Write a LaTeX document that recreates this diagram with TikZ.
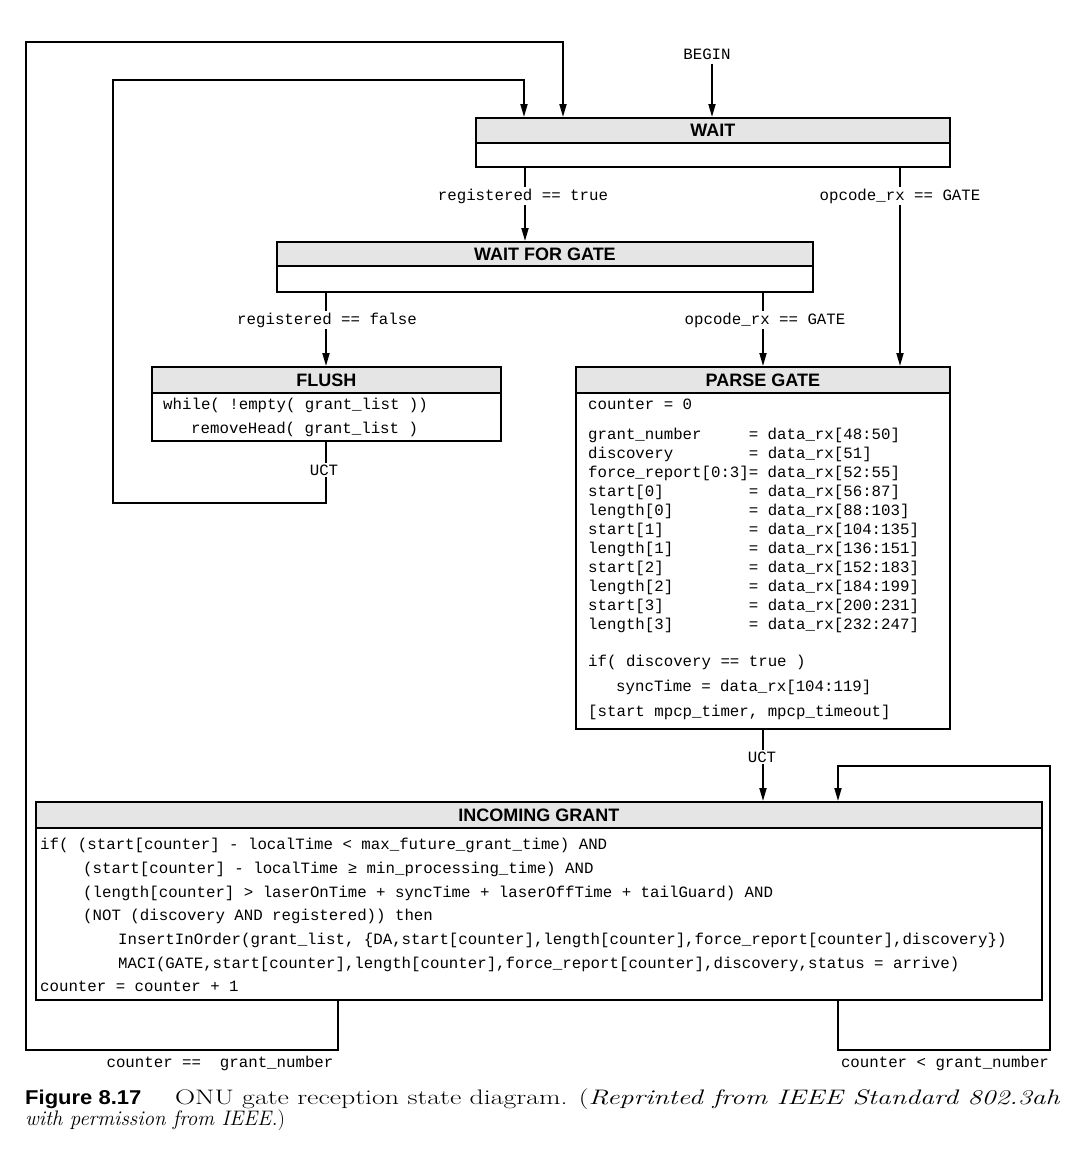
\documentclass[tikz,border=0pt]{standalone}
\usepackage{fontspec}
\setsansfont{Liberation Sans}
\setmonofont{Liberation Mono}
\usetikzlibrary{arrows.meta}
\definecolor{hdrgray}{RGB}{229,229,229}
\begin{document}
\begin{tikzpicture}[x=1pt,y=-1pt,
  hdr/.style={draw, line width=1.8pt, fill=hdrgray, anchor=north west, inner sep=0pt,
    font=\sffamily\bfseries\fontsize{18}{20}\selectfont},
  bodybox/.style={draw, line width=1.8pt, anchor=north west, inner sep=0pt},
  code/.style={font=\ttfamily\fontsize{15.75}{19}\selectfont, anchor=base west, inner sep=0pt},
  lbl/.style={font=\ttfamily\fontsize{15.75}{19}\selectfont, fill=white, inner sep=2pt},
  arr/.style={line width=1.8pt, -{Triangle[length=13pt,width=7pt]}},
  captxt/.style={anchor=base west, inner sep=0pt, font=\fontsize{21}{24}\selectfont},
]
\useasboundingbox (0,0) rectangle (1080,1171);

% ---------- states ----------
\node[hdr, minimum width=474pt, minimum height=25pt] (waitH) at (475,117) {WAIT};
\node[bodybox, minimum width=474pt, minimum height=24pt] (waitB) at (475,142) {};

\node[hdr, minimum width=536pt, minimum height=24pt] (wfgH) at (276,241) {WAIT FOR GATE};
\node[bodybox, minimum width=536pt, minimum height=26pt] (wfgB) at (276,265) {};

\node[hdr, minimum width=349pt, minimum height=26pt] (flushH) at (151,366) {FLUSH};
\node[bodybox, minimum width=349pt, minimum height=48pt] (flushB) at (151,392) {};

\node[hdr, minimum width=374pt, minimum height=26pt] (parseH) at (575,366) {PARSE GATE};
\node[bodybox, minimum width=374pt, minimum height=336pt] (parseB) at (575,392) {};

\node[hdr, minimum width=1006pt, minimum height=26pt] (incH) at (35,801) {INCOMING GRANT};
\node[bodybox, minimum width=1006pt, minimum height=172pt] (incB) at (35,827) {};

% ---------- state texts ----------
\node[code] (fl1) at (163,409) {while( !empty( grant\_list ))};
\node[code] (fl2) at (191,433) {removeHead( grant\_list )};

\node[code] (pg1) at (588,409) {counter = 0};
\node[code] (pg2) at (588,439) {\makebox[10.2em][l]{grant\_number}= data\_rx[48:50]};
\node[code] (pg3) at (588,458) {\makebox[10.2em][l]{discovery}= data\_rx[51]};
\node[code] (pg4) at (588,477) {\makebox[10.2em][l]{force\_report[0:3]}= data\_rx[52:55]};
\node[code] (pg5) at (588,496) {\makebox[10.2em][l]{start[0]}= data\_rx[56:87]};
\node[code] (pg6) at (588,515) {\makebox[10.2em][l]{length[0]}= data\_rx[88:103]};
\node[code] (pg7) at (588,534) {\makebox[10.2em][l]{start[1]}= data\_rx[104:135]};
\node[code] (pg8) at (588,553) {\makebox[10.2em][l]{length[1]}= data\_rx[136:151]};
\node[code] (pg9) at (588,572) {\makebox[10.2em][l]{start[2]}= data\_rx[152:183]};
\node[code] (pg10) at (588,591) {\makebox[10.2em][l]{length[2]}= data\_rx[184:199]};
\node[code] (pg11) at (588,610) {\makebox[10.2em][l]{start[3]}= data\_rx[200:231]};
\node[code] (pg12) at (588,629) {\makebox[10.2em][l]{length[3]}= data\_rx[232:247]};
\node[code] (pg13) at (588,666) {if( discovery == true )};
\node[code] (pg14) at (616,691) {syncTime = data\_rx[104:119]};
\node[code] (pg15) at (588,716) {[start mpcp\_timer, mpcp\_timeout]};

\node[code] (ig1) at (40,849) {if( (start[counter] - localTime < max\_future\_grant\_time) AND};
\node[code] (ig2) at (83,873) {(start[counter] - localTime ≥ min\_processing\_time) AND};
\node[code] (ig3) at (83,897) {(length[counter] > laserOnTime + syncTime + laserOffTime + tailGuard) AND};
\node[code] (ig4) at (83,920) {(NOT (discovery AND registered)) then};
\node[code] (ig5) at (118,944) {InsertInOrder(grant\_list, \{DA,start[counter],length[counter],force\_report[counter],discovery\})};
\node[code] (ig6) at (118,968) {MACI(GATE,start[counter],length[counter],force\_report[counter],discovery,status = arrive)};
\node[code] (ig7) at (40,991) {counter = counter + 1};

% ---------- helper coordinates ----------
\coordinate (x326) at (326,0);
\coordinate (x338) at (338,0);
\coordinate (x524) at (524,0);
\coordinate (x525) at (525,0);
\coordinate (x563) at (563,0);
\coordinate (x712) at (712,0);
\coordinate (x763) at (763,0);
\coordinate (x838) at (838,0);
\coordinate (x900) at (900,0);
\coordinate (ilb) at (113,503);
\coordinate (ilt) at (113,80);
\coordinate (olb) at (26,1050);
\coordinate (olt) at (26,42);
\coordinate (rlb) at (1050,1050);
\coordinate (rlt) at (1050,766);

% ---------- connectors ----------
\node[font=\ttfamily\fontsize{15.75}{19}\selectfont, inner sep=1pt] (begin) at (707,54) {BEGIN};
\draw[arr] (begin.south -| x712) ++(0,3) -- (waitH.north -| x712);

\draw[arr] (waitB.south -| x525) -- (wfgH.north -| x525);
\draw[arr] (waitB.south -| x900) -- (parseH.north -| x900);
\draw[arr] (wfgB.south -| x326) -- (flushH.north -| x326);
\draw[arr] (wfgB.south -| x763) -- (parseH.north -| x763);
\draw[arr] (parseB.south -| x763) -- (incH.north -| x763);

\draw[arr] (flushB.south -| x326) |- (ilb) -- (ilt) -| (waitH.north -| x524);
\draw[arr] (incB.south -| x338) |- (olb) -- (olt) -| (waitH.north -| x563);
\draw[arr] (incB.south -| x838) |- (rlb) -- (rlt) -| (incH.north -| x838);

% ---------- labels ----------
\node[lbl] (l1) at (523,196) {registered == true};
\node[lbl] (l2) at (900,196) {opcode\_rx == GATE};
\node[lbl] (l3) at (327,320) {registered == false};
\node[lbl] (l4) at (765,320) {opcode\_rx == GATE};
\node[lbl] (l5) at (324,470) {UCT};
\node[lbl] (l6) at (762,757) {UCT};
\node[lbl] (l7) at (220,1063) {counter ==\ \ grant\_number};
\node[lbl] (l8) at (945,1063) {counter < grant\_number};

% ---------- caption ----------
\node[anchor=base west, inner sep=0pt, font=\sffamily\bfseries\fontsize{20}{22}\selectfont] (fig) at (25,1104) {\scalebox{1.1}[1]{Figure 8.17}};
\node[captxt] (cap1) at (175,1104) {\resizebox{885pt}{\height}{ONU gate reception state diagram. (\textit{Reprinted from IEEE Standard 802.3ah}}};
\node[captxt] (cap2) at (25,1125) {\textit{with permission from IEEE.})};
\end{tikzpicture}
\end{document}
